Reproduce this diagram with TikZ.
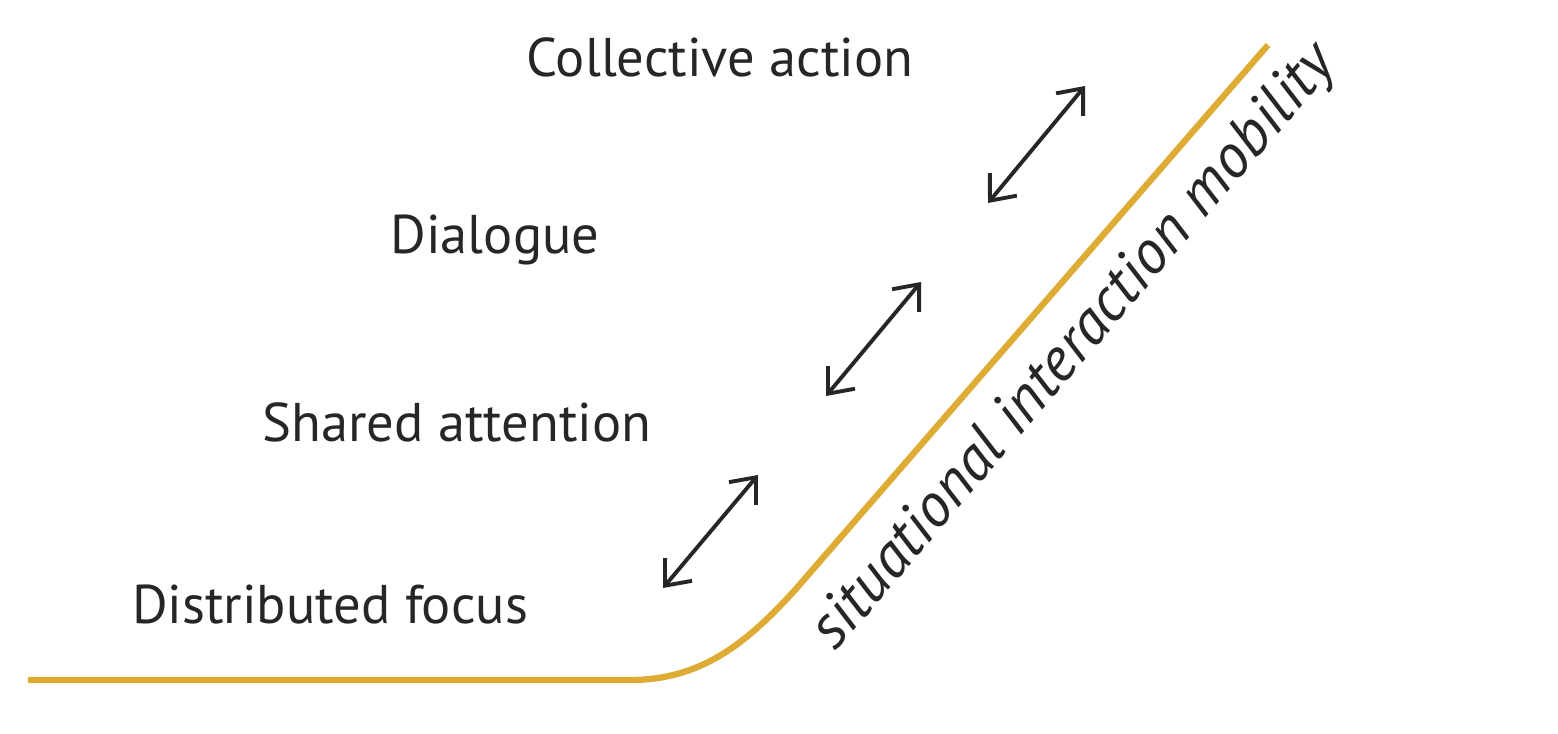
\documentclass[tikz,border=0pt]{standalone}
\usepackage{fontspec}
\setmainfont{PT Sans}
\usetikzlibrary{arrows.meta}
\definecolor{gold}{RGB}{222,172,52}
\begin{document}
\begin{tikzpicture}[x=0.01cm,y=-0.01cm,
  lbl/.style={font=\fontsize{15.5}{18}\selectfont, text=black!85},
  dbl/.style={{Straight Barb[length=6pt,width=10pt]}-{Straight Barb[length=6pt,width=10pt]}, line width=1.1pt, black!85}]
\useasboundingbox (0,0) rectangle (1558,734);
\coordinate (s) at (28,680);
\coordinate (k) at (630,680);
\coordinate (e) at (1268,45);
\draw[gold, line width=1.8pt] (s) -- (k) .. controls (700,680) and (745,645) .. (795,590) -- (e);
\node[lbl] (ca) at (720,57) {Collective action};
\node[lbl] (di) at (495,240) {Dialogue};
\node[lbl] (sa) at (457,422) {Shared attention};
\node[lbl] (df) at (330,605) {Distributed focus};
\coordinate (a1) at (663,588); \coordinate (b1) at (758,475);
\coordinate (a2) at (826,396); \coordinate (b2) at (921,282);
\coordinate (a3) at (988,203); \coordinate (b3) at (1085,86);
\draw[dbl] (a1) -- (b1);
\draw[dbl] (a2) -- (b2);
\draw[dbl] (a3) -- (b3);
\node[lbl, font=\fontsize{17.5}{20}\selectfont, rotate=49.5] (m) at (1075,348) {\itshape situational interaction mobility};
\end{tikzpicture}
\end{document}
